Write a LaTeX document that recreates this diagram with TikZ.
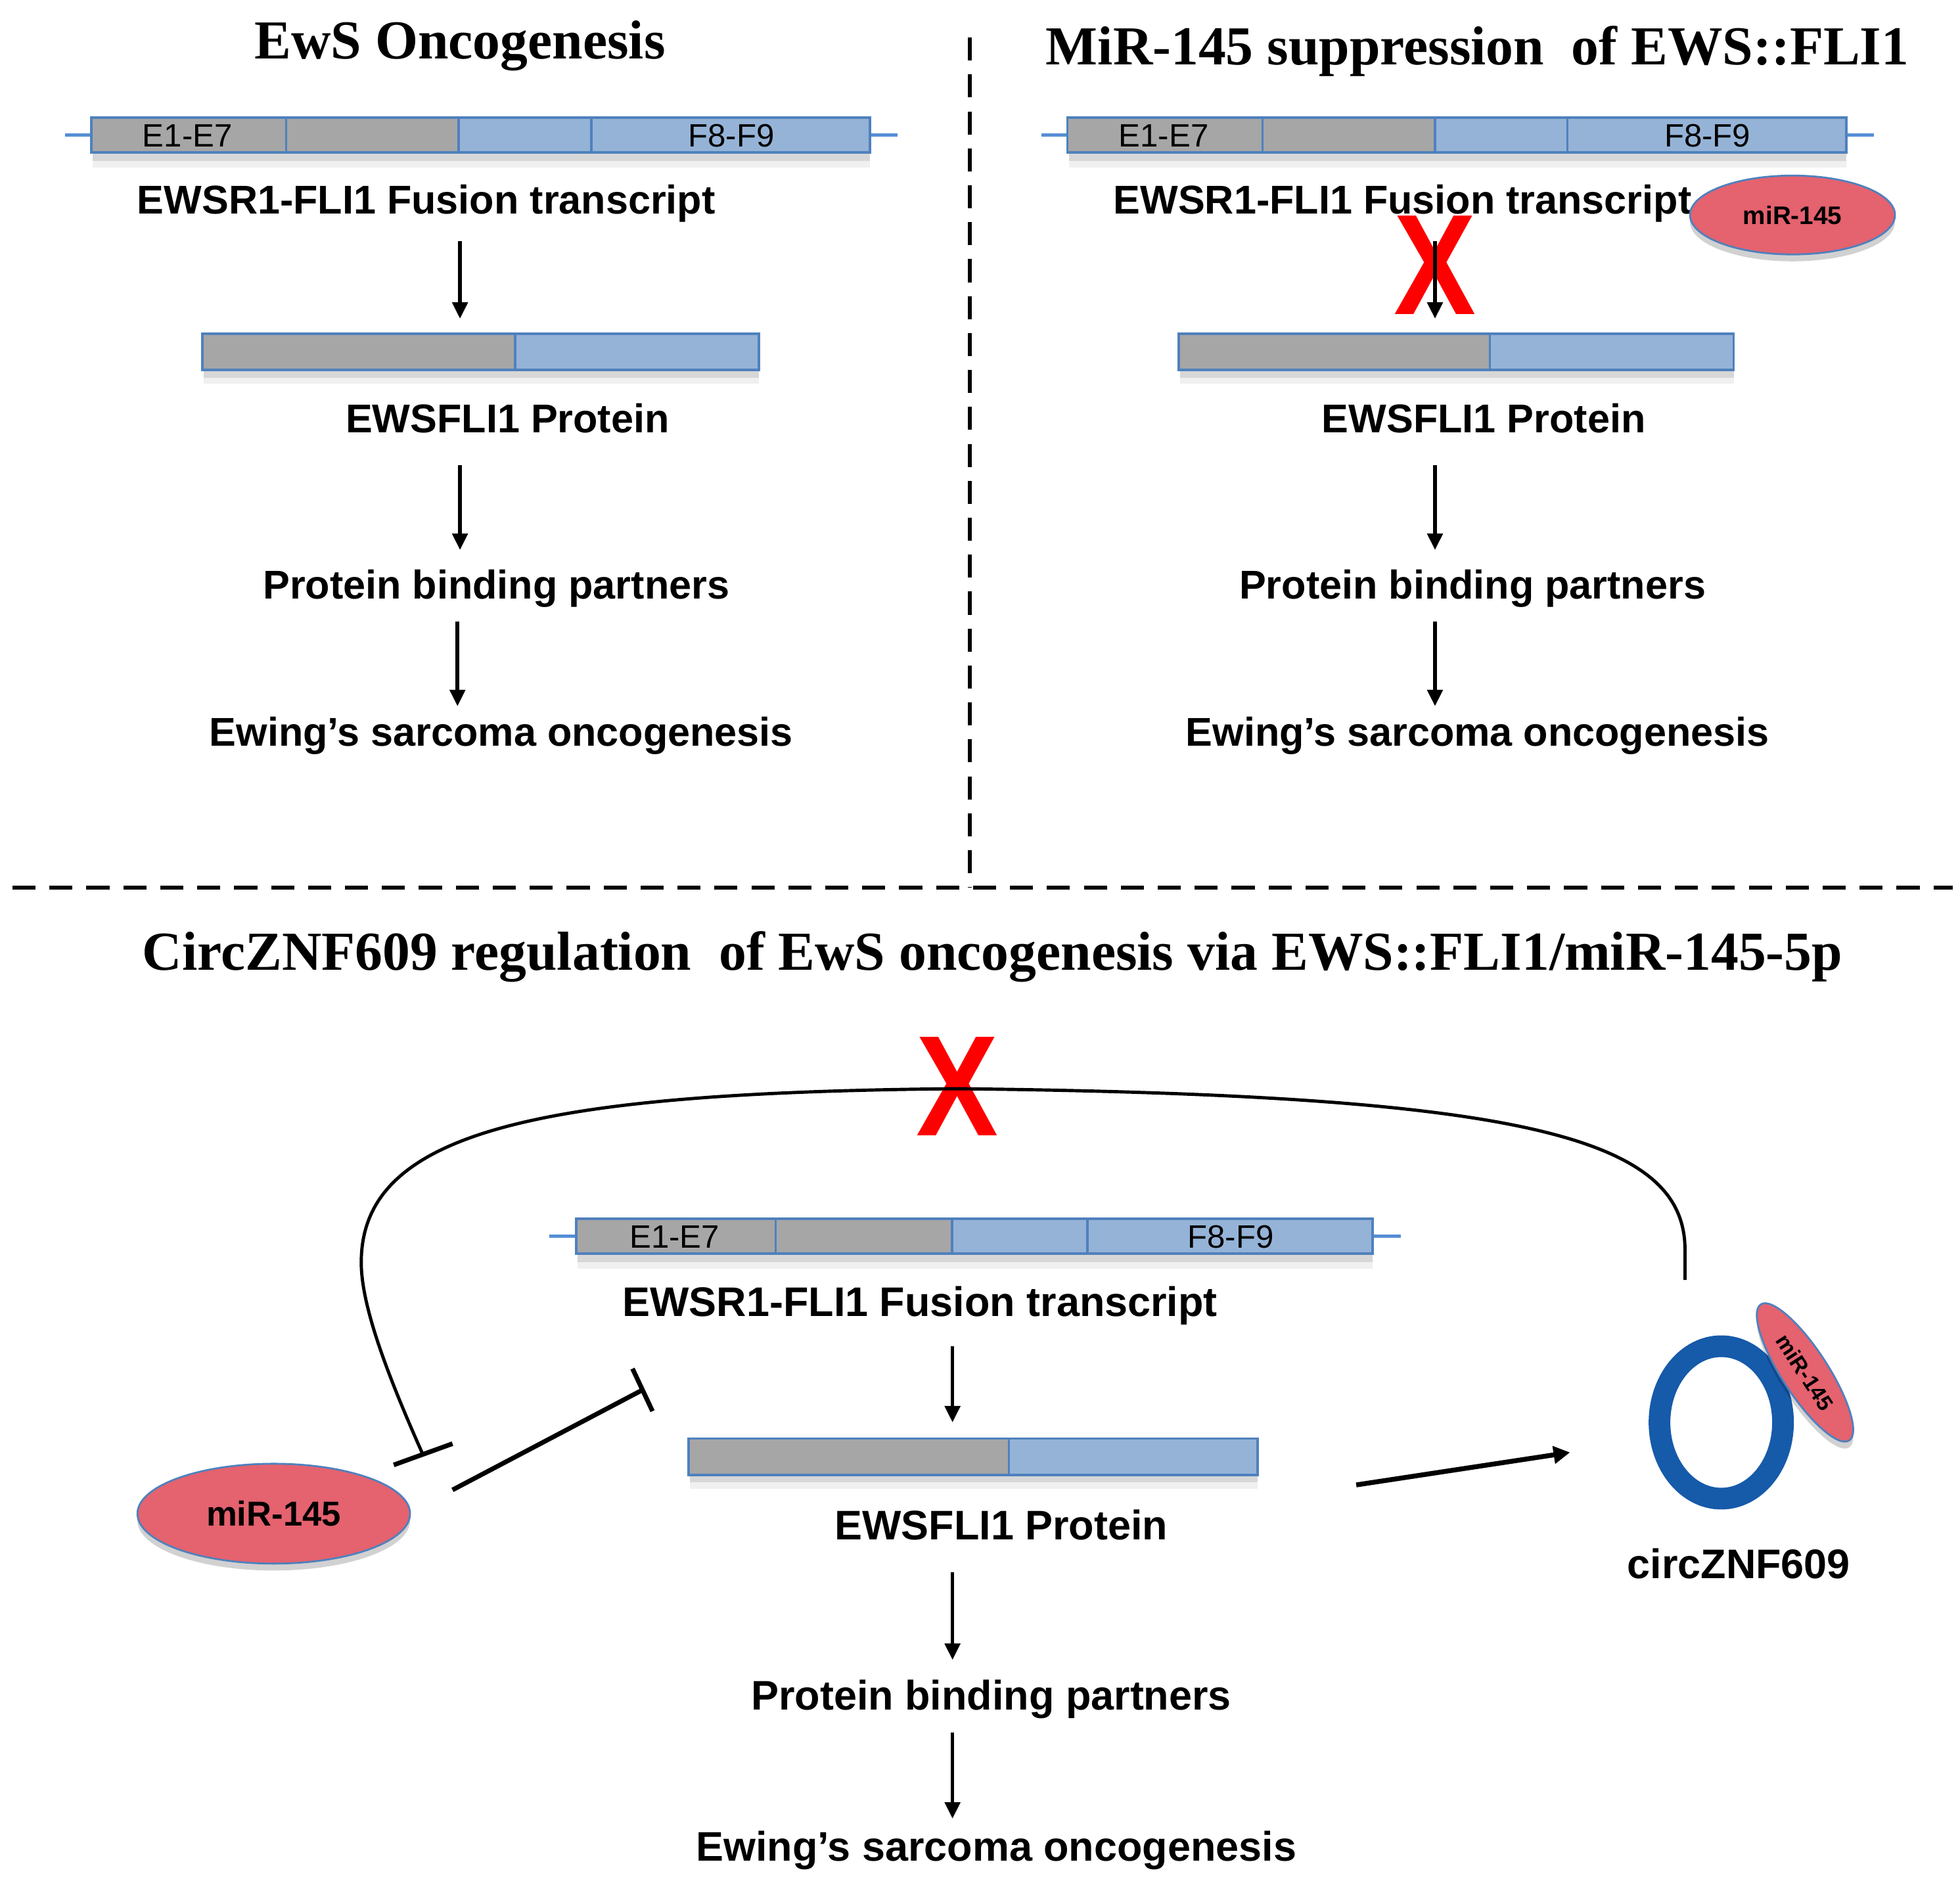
\documentclass[tikz,border=0pt]{standalone}
\usepackage{fontspec}
\setmainfont{Liberation Serif}
\setsansfont{Liberation Sans}
\usetikzlibrary{arrows.meta,shapes.geometric,shadows}
\definecolor{exgray}{RGB}{166,166,166}
\definecolor{exblue}{RGB}{149,179,215}
\definecolor{exedge}{RGB}{79,129,189}
\definecolor{stubblue}{RGB}{85,142,213}
\definecolor{mirpink}{RGB}{229,98,111}
\definecolor{ringblue}{RGB}{22,90,170}
\definecolor{xred}{RGB}{255,0,0}
\tikzset{
  lbl/.style={font=\sffamily\bfseries\fontsize{17.4pt}{20pt}\selectfont, inner sep=0pt, anchor=base},
  blbl/.style={font=\sffamily\bfseries\fontsize{17.9pt}{21pt}\selectfont, inner sep=0pt, anchor=base},
  ttl/.style={font=\rmfamily\bfseries\fontsize{23.8pt}{28pt}\selectfont, inner sep=0pt, anchor=base},
  exlbl/.style={font=\sffamily\fontsize{14pt}{16pt}\selectfont, inner sep=0pt},
  segbox/.style={draw=exedge, line width=1pt},
  stub/.style={draw=stubblue, line width=1.5pt},
  flow/.style={line width=1.6pt, -{Triangle[width=0.23cm,length=0.25cm]}},
  bigflow/.style={line width=2.1pt, -{Triangle[width=0.26cm,length=0.25cm]}},
  divider/.style={line width=1.8pt, dash pattern=on 10pt off 6pt},
  inhib/.style={line width=2pt},
  loopline/.style={line width=1.4pt},
  redx/.style={font=\sffamily\bfseries\fontsize{62pt}{62pt}\selectfont, text=xred, inner sep=0pt, xscale=0.86},
  mir/.style={ellipse, fill=mirpink, draw=exedge, line width=0.8pt, inner sep=0pt,
    drop shadow={shadow xshift=0pt, shadow yshift=-3pt, opacity=0.18, fill=black}},
}
\newcommand{\fusionbar}[4]{%
  \begin{scope}[shift={(#1,#2)}, xscale=#3]
    \fill[black, opacity=0.10] (1,29) rectangle (623,35);
    \fill[black, opacity=0.06] (1,29) rectangle (623,40);
    \draw[stub] (-21,14) -- (645,14);
    \fill[exgray] (0,0) rectangle (294,28);
    \fill[exblue] (294,0) rectangle (623,28);
    \draw[segbox] (0,0) rectangle (623,28);
    \draw[segbox] (156,0) -- (156,28) (294,0) -- (294,28) (400,0) -- (400,28);
    \node[exlbl] (#4e) at (77,14.5) {E1-E7};
    \node[exlbl] (#4f) at (512,14.5) {F8-F9};
  \end{scope}}
\newcommand{\proteinbar}[4]{%
  \begin{scope}[shift={(#1,#2)}]
    \fill[black, opacity=0.10] (1,29) rectangle (#4,35);
    \fill[black, opacity=0.06] (1,29) rectangle (#4,40);
    \fill[exgray] (0,0) rectangle (#3,29);
    \fill[exblue] (#3,0) rectangle (#4,29);
    \draw[segbox] (0,0) rectangle (#4,29);
    \draw[segbox] (#3,0) -- (#3,29);
  \end{scope}}
\begin{document}
\begin{tikzpicture}[x=0.019025cm, y=-0.019025cm]
\useasboundingbox (0,0) rectangle (1568,1506);
\fill[white] (0,0) rectangle (1568,1506);

% ---------- dividers ----------
\coordinate (vtop) at (776,30);
\coordinate (vbot) at (776,710);
\coordinate (hl) at (10,710);
\coordinate (hr) at (1562,710);
\draw[divider] (vtop) -- (vbot);
\draw[divider] (hl) -- (hr);

% ---------- top-left panel ----------
\node[ttl] (t1) at (368,47) {EwS Oncogenesis};
\fusionbar{73}{94}{1}{tlbar}
\node[lbl] (tl1) at (341,171) {EWSR1-FLI1 Fusion transcript};
\proteinbar{162}{267}{250}{445}
\node[lbl] (tl2) at (406,346) {EWSFLI1 Protein};
\node[lbl] (tl3) at (397,479) {Protein binding partners};
\node[lbl] (tl4) at (401,597) {Ewing’s sarcoma oncogenesis};
\coordinate (tla1) at (368,193); \coordinate (tla2) at (368,255);
\coordinate (tlb1) at (368,372); \coordinate (tlb2) at (368,440);
\coordinate (tlc1) at (366,497); \coordinate (tlc2) at (366,565);
\draw[flow] (tla1) -- (tla2);
\draw[flow] (tlb1) -- (tlb2);
\draw[flow] (tlc1) -- (tlc2);

% ---------- top-right panel ----------
\node[ttl] (t2) at (1182,52) {MiR-145 suppression\ \ of EWS::FLI1};
\fusionbar{854}{94}{1}{trbar}
\node[lbl] (tr1) at (1122,171) {EWSR1-FLI1 Fusion transcript};
\node[mir, minimum width=3.12cm, minimum height=1.2cm,
      font=\sffamily\bfseries\fontsize{11pt}{13pt}\selectfont] (trmir) at (1434,172) {miR-145};
\proteinbar{943}{267}{249}{444}
\node[lbl] (tr2) at (1187,346) {EWSFLI1 Protein};
\node[lbl] (tr3) at (1178,479) {Protein binding partners};
\node[lbl] (tr4) at (1182,597) {Ewing’s sarcoma oncogenesis};
\node[redx] (trx) at (1148,212) {X};
\coordinate (tra1) at (1148,193); \coordinate (tra2) at (1148,255);
\coordinate (trb1) at (1148,372); \coordinate (trb2) at (1148,440);
\coordinate (trc1) at (1148,497); \coordinate (trc2) at (1148,565);
\draw[flow] (tra1) -- (tra2);
\draw[flow] (trb1) -- (trb2);
\draw[flow] (trc1) -- (trc2);

% ---------- bottom panel ----------
\node[ttl] (t3) at (794,776) {CircZNF609 regulation\ \ of EwS oncogenesis via EWS::FLI1/miR-145-5p};
\fusionbar{461}{975}{1.0225}{bbar}
\node[blbl] (b1) at (736,1053) {EWSR1-FLI1 Fusion transcript};
\proteinbar{551}{1151}{256}{455}
\node[blbl] (b2) at (801,1232) {EWSFLI1 Protein};
\node[blbl] (b3) at (793,1368) {Protein binding partners};
\node[blbl] (b4) at (797,1489) {Ewing’s sarcoma oncogenesis};

\coordinate (ba1) at (762,1077); \coordinate (ba2) at (762,1138);
\coordinate (bb1) at (762,1258); \coordinate (bb2) at (762,1328);
\coordinate (bc1) at (762,1386); \coordinate (bc2) at (762,1455);
\draw[flow] (ba1) -- (ba2);
\draw[flow] (bb1) -- (bb2);
\draw[flow] (bc1) -- (bc2);

% miR-145 (bottom left)
\node[mir, minimum width=4.15cm, minimum height=1.52cm,
      font=\sffamily\bfseries\fontsize{15pt}{17pt}\selectfont] (bmir) at (219,1211) {miR-145};

% circZNF609 ring with bound miR-145
\node[ellipse, draw=ringblue, line width=0.33cm, minimum width=1.88cm, minimum height=2.32cm,
      inner sep=0pt] (ring) at (1377,1138) {};
\node[mir, rotate=-57, minimum width=2.47cm, minimum height=0.7cm,
      font=\sffamily\bfseries\fontsize{9.5pt}{11pt}\selectfont] (ringmir) at (1444,1098) {miR-145};
\node[blbl] (circlbl) at (1391,1263) {circZNF609};

% protein -> circZNF609
\coordinate (pc1) at (1085,1188); \coordinate (pc2) at (1256,1162);
\draw[bigflow] (pc1) -- (pc2);

% red X on the loop
\node[redx] (bx) at (766,869) {X};

% loop from circZNF609 to miR-145 inhibition
\coordinate (lstart) at (1348,1024);
\coordinate (lend) at (338,1163);
\draw[loopline] (lstart) -- (1348,1000)
  .. controls (1348,910) and (1220,876) .. (766,871)
  .. controls (430,874) and (289,905) .. (289,1010)
  .. controls (289,1045) and (310,1100) .. (lend);
\coordinate (tb1a) at (315,1172); \coordinate (tb1b) at (362,1155);
\draw[inhib] (tb1a) -- (tb1b);

% miR-145 inhibits transcript
\coordinate (in1) at (362,1192); \coordinate (in2) at (514,1112);
\draw[inhib] (in1) -- (in2);
\coordinate (tb2a) at (506,1095); \coordinate (tb2b) at (522,1129);
\draw[inhib] (tb2a) -- (tb2b);
\end{tikzpicture}
\end{document}
